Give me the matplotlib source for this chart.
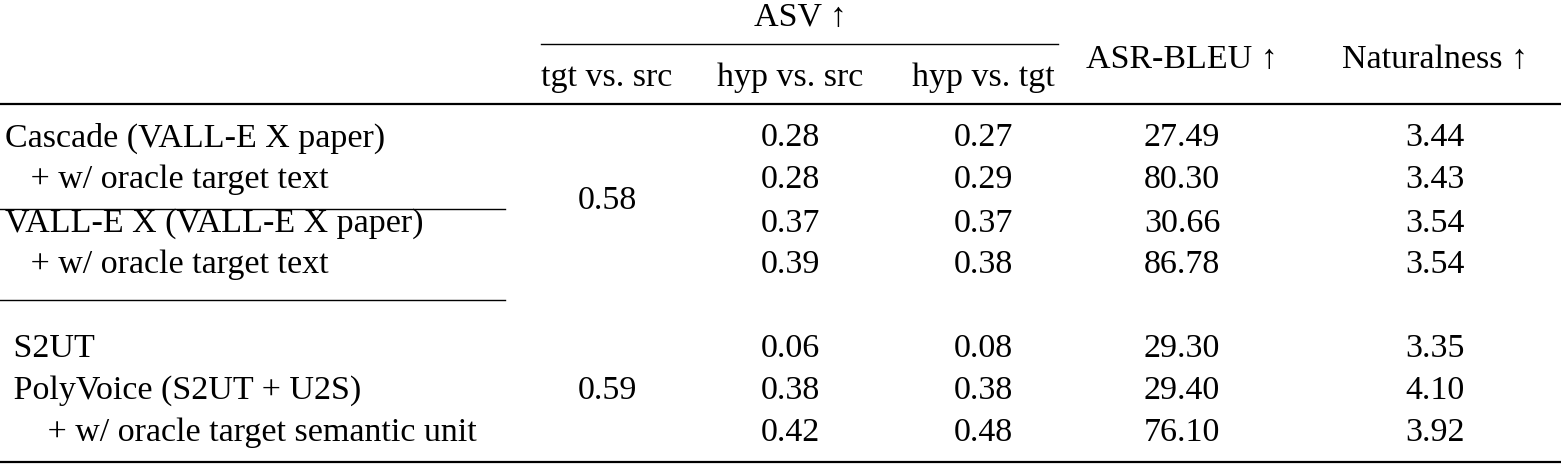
import matplotlib.pyplot as plt

plt.rcParams["font.family"] = ["Liberation Serif", "DejaVu Serif"]

row_labels = [
    "Cascade (VALL-E X paper)",
    "   + w/ oracle target text",
    "VALL-E X (VALL-E X paper)",
    "   + w/ oracle target text",
    " S2UT",
    " PolyVoice (S2UT + U2S)",
    "     + w/ oracle target semantic unit",
]
hyp_vs_src = ["0.28", "0.28", "0.37", "0.39", "0.06", "0.38", "0.42"]
hyp_vs_tgt = ["0.27", "0.29", "0.37", "0.38", "0.08", "0.38", "0.48"]
asr_bleu = ["27.49", "80.30", "30.66", "86.78", "29.30", "29.40", "76.10"]
naturalness = ["3.44", "3.43", "3.54", "3.54", "3.35", "4.10", "3.92"]
tgt_vs_src = ["0.58", "0.59"]

row_y = [138, 180, 224, 265, 349, 391, 433]
col_x = [790, 983, 1182, 1435]
fs = 24.5

fig = plt.figure(figsize=(15.61, 4.65), dpi=100)
ax = fig.add_axes([0, 0, 1, 1])
ax.set_xlim(0, 1561)
ax.set_ylim(465, 0)
ax.axis("off")

# header
ax.text(800, 18, "ASV ↑", ha="center", va="center", fontsize=fs)
ax.plot([541, 1058], [44, 44], color="black", lw=1)
for x, s in zip([607, 790, 983], ["tgt vs. src", "hyp vs. src", "hyp vs. tgt"]):
    ax.text(x, 78, s, ha="center", va="center", fontsize=fs)
ax.text(1182, 60, "ASR-BLEU ↑", ha="center", va="center", fontsize=fs)
ax.text(1435, 60, "Naturalness ↑", ha="center", va="center", fontsize=fs)

# rules
ax.plot([0, 1561], [104, 104], color="black", lw=1.6)
ax.plot([0, 505], [209, 209], color="black", lw=1)
ax.plot([0, 505], [300, 300], color="black", lw=1)
ax.plot([0, 1561], [462, 462], color="black", lw=1.6)

for y, lab, a, b, c, d in zip(row_y, row_labels, hyp_vs_src, hyp_vs_tgt, asr_bleu, naturalness):
    ax.text(5, y, lab, ha="left", va="center", fontsize=fs)
    for x, v in zip(col_x, [a, b, c, d]):
        ax.text(x, y, v, ha="center", va="center", fontsize=fs)

ax.text(607, 201, tgt_vs_src[0], ha="center", va="center", fontsize=fs)
ax.text(607, 391, tgt_vs_src[1], ha="center", va="center", fontsize=fs)

fig.savefig("out.png", dpi=100)
